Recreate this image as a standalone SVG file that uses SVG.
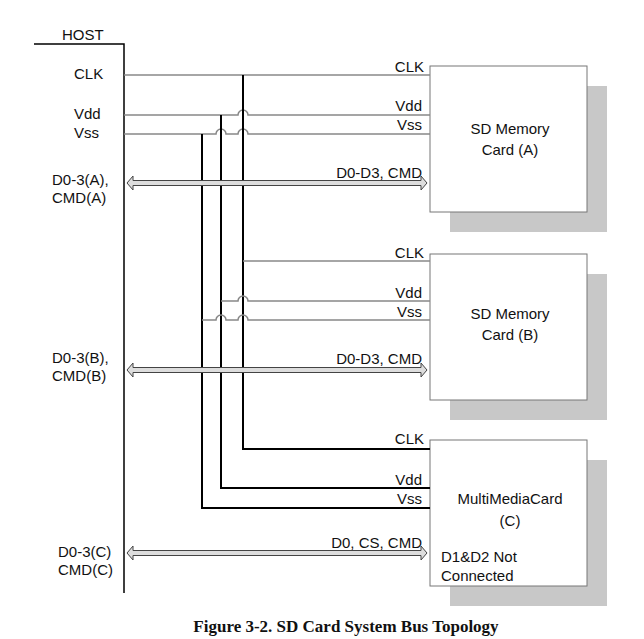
<svg xmlns="http://www.w3.org/2000/svg" width="644" height="639" viewBox="0 0 644 639">
<defs><style>
text{font-family:"Liberation Sans",Arial,sans-serif;font-size:15px;fill:#111}
.g{stroke:#888;stroke-width:1.5;fill:none}
.k{stroke:#000;stroke-width:2;fill:none}
.box{fill:#fff;stroke:#777;stroke-width:1}
.sh{fill:#c8c8c8}
.bus{fill:#ddd;stroke:#444;stroke-width:1}
.r{text-anchor:end}
.c{text-anchor:middle}
</style></defs>
<rect width="644" height="639" fill="#fff"/>
<g id="host">
<path d="M34 44H124V593" stroke="#000" stroke-width="1.5" fill="none"/>
<text x="62" y="40" font-size="16">HOST</text>
<text x="74" y="79">CLK</text>
<text x="74" y="119">Vdd</text>
<text x="74" y="138">Vss</text>
<text x="52" y="185">D0-3(A),</text>
<text x="52" y="203">CMD(A)</text>
<text x="52" y="363">D0-3(B),</text>
<text x="52" y="381">CMD(B)</text>
<text x="58" y="557">D0-3(C)</text>
<text x="58" y="575">CMD(C)</text>
</g>
<g id="cardA">
<rect class="sh" x="450" y="86" width="157" height="146"/>
<rect class="box" x="430" y="66" width="157" height="146"/>
<text class="c" x="510" y="134">SD Memory</text>
<text class="c" x="510" y="155">Card (A)</text>
</g>
<g id="cardB">
<rect class="sh" x="450" y="274" width="157" height="146"/>
<rect class="box" x="430" y="254" width="157" height="146"/>
<text class="c" x="510" y="319">SD Memory</text>
<text class="c" x="510" y="340">Card (B)</text>
</g>
<g id="cardC">
<rect class="sh" x="450" y="460" width="157" height="146"/>
<rect class="box" x="430" y="440" width="157" height="146"/>
<text class="c" x="510" y="504">MultiMediaCard</text>
<text class="c" x="510" y="526">(C)</text>
<text x="441" y="562">D1&amp;D2 Not</text>
<text x="441" y="581">Connected</text>
</g>
<g id="connectors">
<path class="g" d="M124 75H430"/>
<path class="g" d="M124 115H238a5 5 0 0 1 10 0H430"/>
<path class="g" d="M124 134H202M202 134H216a5 5 0 0 1 10 0H238a5 5 0 0 1 10 0H430"/>
<path class="g" d="M221 115V134"/>
<path class="k" d="M243 75V449H430"/>
<path class="k" d="M221 115V488H430"/>
<path class="k" d="M202 134V508H430"/>
<path class="g" d="M243 261H430"/>
<path class="g" d="M221 301H238a5 5 0 0 1 10 0H430"/>
<path class="g" d="M202 320H216a5 5 0 0 1 10 0H238a5 5 0 0 1 10 0H430"/>
<path class="bus" d="M127 183L133 176V180.5H421V176L427 183L421 190V185.5H133V190Z"/>
<path class="bus" d="M127 370L133 363V367.5H421V363L427 370L421 377V372.5H133V377Z"/>
<path class="bus" d="M127 553L133 546V550.5H421V546L427 553L421 560V555.5H133V560Z"/>
<text class="r" x="424" y="72">CLK</text>
<text class="r" x="422" y="111">Vdd</text>
<text class="r" x="422" y="130">Vss</text>
<text class="r" x="422" y="178">D0-D3, CMD</text>
<text class="r" x="424" y="258">CLK</text>
<text class="r" x="422" y="298">Vdd</text>
<text class="r" x="422" y="317">Vss</text>
<text class="r" x="422" y="364">D0-D3, CMD</text>
<text class="r" x="424" y="444">CLK</text>
<text class="r" x="422" y="485">Vdd</text>
<text class="r" x="422" y="504">Vss</text>
<text class="r" x="422" y="548">D0, CS, CMD</text>
</g>
<text class="c" x="346" y="632" style="font-family:'Liberation Serif',serif;font-weight:bold;font-size:17px">Figure 3-2.  SD Card System Bus Topology</text>
</svg>
